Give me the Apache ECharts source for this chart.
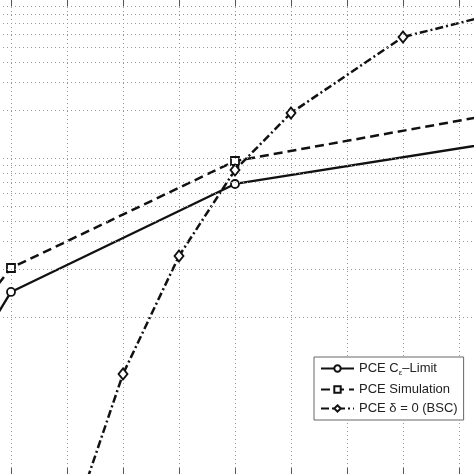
<!DOCTYPE html>
<html>
<head>
<meta charset="utf-8">
<script src="https://cdn.jsdelivr.net/npm/echarts@6/dist/echarts.min.js"></script>
<style>html,body{margin:0;padding:0;background:#fff;}#c{width:474px;height:474px;}</style>
</head>
<body>
<div id="c"></div>
<script>
// Data (x in grid units, y on log scale)
var seriesNames = ['PCE C_eps-Limit', 'PCE Simulation', 'PCE \u03b4 = 0 (BSC)'];
var limitX = [-1, 0, 4, 9];
var limitY = [0.00379, 0.01437, 0.06864, 0.1307];
var limitMarked = [false, true, true, false];
var simX = [-1, 0, 4, 9];
var simY = [0.00727, 0.02033, 0.09574, 0.1987];
var simMarked = [false, true, true, false];
var bscX = [1, 2, 3, 4, 5, 7, 9];
var bscY = [0.000402, 0.00438, 0.02419, 0.08404, 0.1919, 0.5768, 0.8652];
var bscMarked = [false, true, true, true, true, true, false];
var yGridTicks = [0.001,0.002,0.003,0.004,0.005,0.006,0.007,0.008,0.009,
                  0.01,0.02,0.03,0.04,0.05,0.06,0.07,0.08,0.09,
                  0.1,0.2,0.3,0.4,0.5,0.6,0.7,0.8,0.9,1];

function build(xs, ys, marked) {
  return xs.map(function (x, i) {
    var d = { value: [x, ys[i]] };
    if (!marked[i]) d.symbol = 'none';
    return d;
  });
}

var chart = echarts.init(document.getElementById('c'), null, { renderer: 'canvas' });
var font = '"Liberation Sans", Arial, Helvetica, sans-serif';
var ptStyle = { color: '#fff', borderColor: '#111', borderWidth: 1.8 };

chart.setOption({
  animation: false,
  backgroundColor: '#fff',
  grid: { left: -45, width: 560, top: -1, height: 477, containLabel: false, outerBoundsMode: 'none' },
  xAxis: [
    { type: 'value', min: -1, max: 9, interval: 1, position: 'bottom',
      axisLine: { show: true, lineStyle: { color: '#333' } },
      axisTick: { show: true, inside: true, length: 8, lineStyle: { color: '#555' } },
      axisLabel: { show: false },
      splitLine: { show: true, lineStyle: { color: '#999', type: [1, 3], width: 1 } } },
    { type: 'value', min: -1, max: 9, interval: 1, position: 'top',
      axisLine: { show: true, lineStyle: { color: '#333' } },
      axisTick: { show: true, inside: true, length: 8, lineStyle: { color: '#555' } },
      axisLabel: { show: false }, splitLine: { show: false } }
  ],
  yAxis: { type: 'log', logBase: 10, min: 0.001, max: 1,
    axisLine: { show: false }, axisTick: { show: false }, axisLabel: { show: false },
    splitLine: { show: false } },
  legend: {
    data: seriesNames,
    left: 314, top: 357, orient: 'vertical',
    backgroundColor: '#fff', borderColor: '#666', borderWidth: 1,
    padding: [5, 6, 5, 6], itemGap: 6, itemWidth: 33, itemHeight: 8,
    textStyle: { fontFamily: font, fontSize: 13, color: '#222',
      rich: { t: { fontFamily: font, fontSize: 13, color: '#222' },
              s: { fontFamily: font, fontSize: 8, color: '#222', padding: [9, 0, 0, 0] } } },
    formatter: function (n) {
      if (n === seriesNames[0]) return '{t|PCE C}{s|\u03b5}{t|\u2013Limit}';
      return '{t|' + n + '}';
    }
  },
  series: [
    { name: 'grid', type: 'line', data: [], silent: true, z: 0,
      markLine: { silent: true, symbol: ['none', 'none'], label: { show: false },
        lineStyle: { color: '#999', type: [1, 3], width: 1 },
        data: yGridTicks.map(function (v) { return { yAxis: v }; }) } },
    { name: seriesNames[0], type: 'line', data: build(limitX, limitY, limitMarked),
      symbol: 'circle', symbolSize: 8, showAllSymbol: true, z: 3,
      lineStyle: { color: '#111', width: 2.3, type: 'solid' }, itemStyle: ptStyle },
    { name: seriesNames[1], type: 'line', data: build(simX, simY, simMarked),
      symbol: 'rect', symbolSize: 8, showAllSymbol: true, z: 3,
      lineStyle: { color: '#111', width: 2.5, type: [9, 5] }, itemStyle: ptStyle },
    { name: seriesNames[2], type: 'line', data: build(bscX, bscY, bscMarked),
      symbol: 'diamond', symbolSize: [9, 11], showAllSymbol: true, z: 3,
      lineStyle: { color: '#111', width: 2.5, type: [8, 3, 2, 3] }, itemStyle: ptStyle }
  ]
});
</script>
</body>
</html>
